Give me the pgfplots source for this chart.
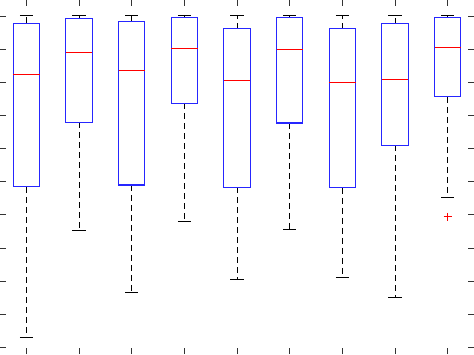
\documentclass[border=0pt]{standalone}
\usepackage{pgfplots}
\pgfplotsset{compat=1.18}
\usepgfplotslibrary{statistics}
\begin{document}
\begin{tikzpicture}
\begin{axis}[
  scale only axis,
  width=474pt, height=354pt,
  xmin=0.5, xmax=9.5,
  ymin=-0.2, ymax=10.48,
  xtick={1,...,9}, ytick={0,...,10},
  xticklabels={}, yticklabels={},
  tick align=inside,
  major tick length=6pt,
  tick style={black!80, line width=0.8pt},
  axis line style={draw=none},
  boxplot/draw direction=y,
  boxplot/box extend=0.5,
  boxplot/whisker extend=0.25,
  boxplot/every box/.style={draw=blue!85!white, line width=1.1pt},
  boxplot/every median/.style={draw=red, line width=1.1pt},
  boxplot/draw/lower whisker/.code={%
    \draw[black, line width=1pt, dash pattern=on 6pt off 4pt]
      (boxplot cs:\pgfplotsboxplotvalue{lower quartile}) --
      (boxplot cs:\pgfplotsboxplotvalue{lower whisker});
    \draw[black, line width=1pt]
      (boxplot whisker cs:\pgfplotsboxplotvalue{lower whisker},0) --
      (boxplot whisker cs:\pgfplotsboxplotvalue{lower whisker},1);
  },
  boxplot/draw/upper whisker/.code={%
    \draw[black, line width=1pt, dash pattern=on 6pt off 4pt]
      (boxplot cs:\pgfplotsboxplotvalue{upper quartile}) --
      (boxplot cs:\pgfplotsboxplotvalue{upper whisker});
    \draw[black, line width=1pt]
      (boxplot whisker cs:\pgfplotsboxplotvalue{upper whisker},0) --
      (boxplot whisker cs:\pgfplotsboxplotvalue{upper whisker},1);
  },
]
\addplot[blue, boxplot prepared={draw position=1, lower whisker=0.29, lower quartile=4.84, median=8.23, upper quartile=9.78, upper whisker=10.0}] coordinates {};
\addplot[blue, boxplot prepared={draw position=2, lower whisker=3.54, lower quartile=6.79, median=8.89, upper quartile=9.91, upper whisker=10.0}] coordinates {};
\addplot[blue, boxplot prepared={draw position=3, lower whisker=1.66, lower quartile=4.90, median=8.35, upper quartile=9.84, upper whisker=10.0}] coordinates {};
\addplot[blue, boxplot prepared={draw position=4, lower whisker=3.79, lower quartile=7.37, median=9.01, upper quartile=9.96, upper whisker=10.0}] coordinates {};
\addplot[blue, boxplot prepared={draw position=5, lower whisker=2.06, lower quartile=4.83, median=8.06, upper quartile=9.61, upper whisker=10.0}] coordinates {};
\addplot[blue, boxplot prepared={draw position=6, lower whisker=3.57, lower quartile=6.77, median=8.99, upper quartile=9.96, upper whisker=10.0}] coordinates {};
\addplot[blue, boxplot prepared={draw position=7, lower whisker=2.10, lower quartile=4.81, median=8.00, upper quartile=9.61, upper whisker=10.0}] coordinates {};
\addplot[blue, boxplot prepared={draw position=8, lower whisker=1.49, lower quartile=6.10, median=8.07, upper quartile=9.76, upper whisker=10.0}] coordinates {};
\addplot[blue, boxplot prepared={draw position=9, lower whisker=4.52, lower quartile=7.56, median=9.06, upper quartile=9.96, upper whisker=10.0}] coordinates {};
\addplot[only marks, mark=+, mark size=4pt, red, line width=1.1pt] coordinates {(9,3.94)};
\end{axis}
\pgfresetboundingbox
\path[use as bounding box] (current axis.south west) rectangle (current axis.north east);
\end{tikzpicture}
\end{document}
